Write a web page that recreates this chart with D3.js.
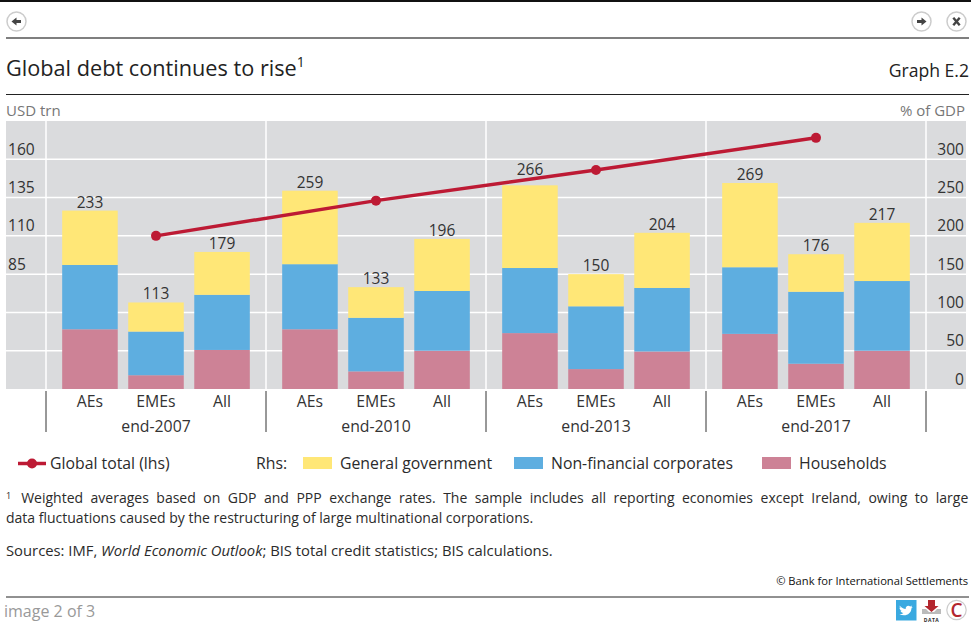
<!DOCTYPE html>
<html>
<head>
<meta charset="utf-8">
<script src="https://cdn.jsdelivr.net/npm/d3@7"></script>
<style>
    html, body { margin: 0; padding: 0; background: #fff; overflow: hidden; }
    svg { display: block; }
    text { font-family: "Open Sans", "Noto Sans", sans-serif; fill: #2b2b2b; }
    .axis path, .axis line { display: none; }
    .axis text { font-size: 15.6px; fill: #333; font-family: "Open Sans", sans-serif; }
</style>
</head>
<body>
<div id="graph"></div>
<script>
document.addEventListener("DOMContentLoaded", () => {
    // data
    const periods = ["end-2007", "end-2010", "end-2013", "end-2017"];
    const regions = ["AEs", "EMEs", "All"];
    const seriesNames = ["Households", "Non-financial corporates", "General government"];

    // one value per period/region, in the order of periods x regions
    const households = [78, 18, 51, 78, 23, 50, 73, 26, 49, 72, 33, 50];
    const corporates = [84, 57, 72, 85, 70, 78, 85, 82, 83, 87, 94, 91];
    const government = [71, 38, 56, 96, 40, 68, 108, 42, 72, 110, 49, 76];
    const totals = [233, 113, 179, 259, 133, 196, 266, 150, 204, 269, 176, 217];

    const globalTotal = [110, 133, 153, 174];

    const rightTicks = [0, 50, 100, 150, 200, 250, 300];
    const leftTicks = [85, 110, 135, 160];

    const colors = {
        "Households": "#cd8296",
        "Non-financial corporates": "#5eaee0",
        "General government": "#ffe777"
    };
    const red = "#bd1a34";

    const width = 971, height = 629;
    const plot = {left: 6, right: 966, top: 121, bottom: 389};
    const groupLeft = 46, groupRight = 926;

    const svg = d3.select("#graph")
        .append("svg")
        .attr("width", width)
        .attr("height", height);

    // scales
    const yRight = d3.scaleLinear().domain([0, 350]).range([plot.bottom, plot.top]);
    const yLeft = d3.scaleLinear().domain([10, 185]).range([plot.bottom, plot.top]);

    const xPeriod = d3.scaleBand().domain(periods).range([groupLeft, groupRight]);
    const xRegion = d3.scaleBand().domain(regions)
        .range([0, xPeriod.bandwidth()])
        .paddingInner(0.159)
        .paddingOuter(0.245);

    // flat table with one row per bar
    const rows = [];
    periods.forEach((p, i) => {
        regions.forEach((r, j) => {
            const k = i * regions.length + j;
            rows.push({
                period: p, region: r, total: totals[k],
                "Households": households[k],
                "Non-financial corporates": corporates[k],
                "General government": government[k]
            });
        });
    });
    const stacked = d3.stack().keys(seriesNames)(rows);
    const barX = (d) => xPeriod(d.period) + xRegion(d.region);

    // window frame
    svg.append("rect").attr("width", width).attr("height", 2).attr("fill", "#111");
    function rule(y, color, w) {
        svg.append("line")
            .attr("x1", 6).attr("x2", 969)
            .attr("y1", y).attr("y2", y)
            .attr("stroke", color).attr("stroke-width", w);
    }
    rule(38, "#555", 1.5);
    rule(94.5, "#222", 1);
    rule(597, "#222", 1);

    // nav buttons
    function navButton(cx, cy, glyph) {
        const g = svg.append("g").attr("transform", "translate(" + cx + "," + cy + ")");
        g.append("circle").attr("r", 9.5).attr("fill", "#fff")
            .attr("stroke", "#ccc").attr("stroke-width", 1.5);
        g.append("path").attr("d", glyph).attr("fill", "#444").attr("stroke", "#444")
            .attr("stroke-width", glyph.includes("Z") ? 0 : 2.4);
    }
    navButton(16.5, 21.5, "M-5,0L0,-4V-1.5H4.5V1.5H0V4Z");
    navButton(921.5, 21.5, "M5,0L0,-4V-1.5H-4.5V1.5H0V4Z");
    navButton(956.5, 21.5, "M-3.2,-3.8L3.2,3.8M3.2,-3.8L-3.2,3.8");

    // title
    const title = svg.append("text").attr("x", 6).attr("y", 76)
        .style("font-size", "21.7px").style("fill", "#222");
    title.append("tspan").text("Global debt continues to rise");
    title.append("tspan").attr("dy", -9).style("font-size", "14px").text("1");
    svg.append("text").attr("x", 969).attr("y", 77).attr("text-anchor", "end")
        .style("font-size", "17.6px").style("fill", "#222").text("Graph E.2");

    // axis units
    svg.append("text").attr("x", 6).attr("y", 116)
        .style("font-size", "15px").style("fill", "#777").text("USD trn");
    svg.append("text").attr("x", 965).attr("y", 116).attr("text-anchor", "end")
        .style("font-size", "15px").style("fill", "#777").text("% of GDP");

    // plot background and grid
    svg.append("rect")
        .attr("x", plot.left).attr("y", plot.top)
        .attr("width", plot.right - plot.left)
        .attr("height", plot.bottom - plot.top)
        .attr("fill", "#dadbdd");

    svg.append("g").selectAll("line")
        .data(rightTicks.slice(1))
        .join("line")
        .attr("x1", plot.left).attr("x2", plot.right)
        .attr("y1", (d) => yRight(d)).attr("y2", (d) => yRight(d))
        .attr("stroke", "#fff").attr("stroke-width", 1.5);

    const separators = periods.map((p) => xPeriod(p)).concat(groupRight);
    svg.append("g").selectAll("line")
        .data(separators)
        .join("line")
        .attr("x1", (d) => d).attr("x2", (d) => d)
        .attr("y1", plot.top).attr("y2", plot.bottom)
        .attr("stroke", "#fff").attr("stroke-width", 1.5);

    // axis labels sit just above their grid lines
    svg.append("g")
        .attr("class", "axis")
        .attr("transform", "translate(" + (plot.left + 2) + ",-10)")
        .call(d3.axisRight(yLeft).tickValues(leftTicks).tickSize(0).tickPadding(0));

    svg.append("g")
        .attr("class", "axis")
        .attr("transform", "translate(" + (plot.right - 2) + ",-10)")
        .call(d3.axisLeft(yRight).tickValues(rightTicks).tickSize(0).tickPadding(0));

    // stacked bars
    svg.append("g").selectAll("g")
        .data(stacked)
        .join("g")
        .attr("fill", (s) => colors[s.key])
        .selectAll("rect")
        .data((s) => s)
        .join("rect")
        .attr("x", (d) => barX(d.data))
        .attr("y", (d) => yRight(d[1]))
        .attr("width", xRegion.bandwidth())
        .attr("height", (d) => yRight(d[0]) - yRight(d[1]));

    // totals on top of bars, the 2013 AEs one is lifted clear of the line
    svg.append("g").selectAll("text")
        .data(rows)
        .join("text")
        .attr("x", (d) => barX(d) + xRegion.bandwidth() / 2)
        .attr("y", (d) => yRight(d.total) - (d.period === "end-2013" && d.region === "AEs" ? 10.5 : 3))
        .attr("text-anchor", "middle")
        .style("font-size", "15.5px")
        .style("fill", "#333")
        .text((d) => d.total);

    // global total line, centred on each period
    const lineX = (p) => xPeriod(p) + xPeriod.bandwidth() / 2;
    const line = d3.line()
        .x((d, i) => lineX(periods[i]))
        .y((d) => yLeft(d));

    svg.append("path")
        .attr("d", line(globalTotal))
        .attr("fill", "none")
        .attr("stroke", red)
        .attr("stroke-width", 3.5);

    svg.append("g").selectAll("circle")
        .data(globalTotal)
        .join("circle")
        .attr("cx", (d, i) => lineX(periods[i]))
        .attr("cy", (d) => yLeft(d))
        .attr("r", 5)
        .attr("fill", red);

    // category labels below the plot
    svg.append("g").selectAll("line")
        .data(separators)
        .join("line")
        .attr("x1", (d) => d).attr("x2", (d) => d)
        .attr("y1", 391).attr("y2", 432)
        .attr("stroke", "#333").attr("stroke-width", 1);

    svg.append("g").selectAll("text")
        .data(rows)
        .join("text")
        .attr("x", (d) => barX(d) + xRegion.bandwidth() / 2)
        .attr("y", 407)
        .attr("text-anchor", "middle")
        .style("font-size", "15.8px")
        .style("fill", "#333")
        .text((d) => d.region);

    svg.append("g").selectAll("text")
        .data(periods)
        .join("text")
        .attr("x", (d) => lineX(d))
        .attr("y", 431.5)
        .attr("text-anchor", "middle")
        .style("font-size", "15.8px")
        .style("fill", "#333")
        .text((d) => d);

    // legend
    svg.append("line").attr("x1", 18).attr("x2", 46).attr("y1", 463.5).attr("y2", 463.5)
        .attr("stroke", red).attr("stroke-width", 3.5);
    svg.append("circle").attr("cx", 32).attr("cy", 463.5).attr("r", 5).attr("fill", red);
    svg.append("text").attr("x", 50).attr("y", 469).style("font-size", "15.8px").text("Global total (lhs)");
    svg.append("text").attr("x", 256).attr("y", 469).style("font-size", "15.8px").text("Rhs:");

    const legendItems = [
        {name: "General government", x: 303},
        {name: "Non-financial corporates", x: 514},
        {name: "Households", x: 762}
    ];
    legendItems.forEach((d) => {
        svg.append("rect").attr("x", d.x).attr("y", 457)
            .attr("width", 29).attr("height", 12).attr("fill", colors[d.name]);
        svg.append("text").attr("x", d.x + 37).attr("y", 469)
            .style("font-size", "15.8px").text(d.name);
    });

    // footnotes, first line is justified in the original
    const note = svg.append("text").attr("x", 6).attr("y", 503).style("font-size", "14px");
    note.append("tspan").attr("dy", -4).style("font-size", "9px").text("1");
    note.append("tspan").attr("dy", 4).attr("dx", 10).style("word-spacing", "3.85px")
        .text("Weighted averages based on GDP and PPP exchange rates. The sample includes all reporting economies except Ireland, owing to large");
    svg.append("text").attr("x", 6).attr("y", 523).style("font-size", "14px")
        .text("data fluctuations caused by the restructuring of large multinational corporations.");

    const sources = svg.append("text").attr("x", 6).attr("y", 556).style("font-size", "14.8px");
    sources.append("tspan").text("Sources: IMF, ");
    sources.append("tspan").style("font-style", "italic").text("World Economic Outlook");
    sources.append("tspan").text("; BIS total credit statistics; BIS calculations.");

    svg.append("text").attr("x", 968).attr("y", 585).attr("text-anchor", "end")
        .style("font-size", "11.2px").style("fill", "#111").text("© Bank for International Settlements");

    svg.append("text").attr("x", 4).attr("y", 617)
        .style("font-size", "16px").style("fill", "#999").text("image 2 of 3");

    // share icons
    svg.append("rect").attr("x", 896).attr("y", 600).attr("width", 20.5).attr("height", 20.5).attr("fill", "#3aa9e0");
    svg.append("path")
        .attr("d", "M899.5,605.5c2,2.2 4,3.3 6.2,3.4c-.5,-2.6 2.6,-4.3 4.5,-2.5l2,-.8l-1,1.7l1.5,-.3l-1.3,1.5c0,5 -6,9 -12,5.6c1.8,.1 3,-.3 4,-1.2c-1.6,-.2 -2.5,-1 -3,-2.2h1.5c-1.6,-.6 -2.4,-1.7 -2.5,-3.2l1.4,.4c-1.3,-1 -1.6,-2.4 -.8,-3.4z")
        .attr("fill", "#fff");
    svg.append("path").attr("d", "M928,600H935V606H938.5L931.5,612L924.5,606H928Z").attr("fill", "#b3262e");
    svg.append("path").attr("d", "M922,609H926L929,612H934L937,609H941V614H922Z").attr("fill", "#bbb");
    svg.append("text").attr("x", 931.5).attr("y", 621.5).attr("text-anchor", "middle")
        .style("font-size", "5px").style("font-weight", "700").style("letter-spacing", "0.5px").text("DATA");
    svg.append("circle").attr("cx", 956.5).attr("cy", 610).attr("r", 9.7)
        .attr("fill", "#fff").attr("stroke", "#ccc").attr("stroke-width", 1.2);
    svg.append("text").attr("x", 956.5).attr("y", 617).attr("text-anchor", "middle")
        .style("font-size", "19px").style("font-weight", "600").style("fill", "#b3262e").text("C");
});
</script>
</body>
</html>
